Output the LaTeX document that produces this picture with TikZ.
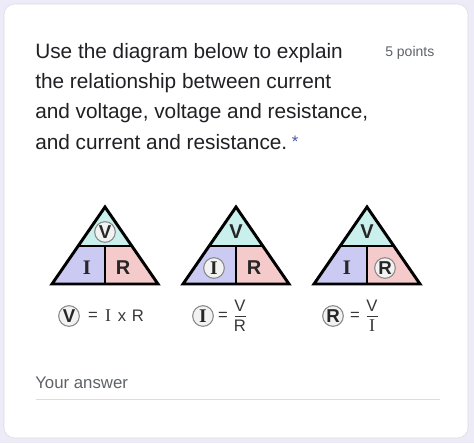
\documentclass[tikz,border=0pt]{standalone}
\usepackage{fontspec}
\setmainfont{Liberation Sans}
\newfontfamily\serifb{Liberation Serif}
\definecolor{bgout}{HTML}{ECEBF7}
\definecolor{cardline}{HTML}{DADCE0}
\definecolor{txt}{HTML}{202124}
\definecolor{gry}{HTML}{5F6368}
\definecolor{star}{HTML}{4A55A8}
\definecolor{topc}{HTML}{C9F0EC}
\definecolor{leftc}{HTML}{CACAF2}
\definecolor{rightc}{HTML}{F4CACB}
\definecolor{ringc}{HTML}{8A8A8A}
\definecolor{ringfill}{HTML}{F2F2F2}
\tikzset{
  qtext/.style={anchor=base west,inner sep=0pt,text=txt,font=\fontsize{15.6}{18}\selectfont},
  tri/.style={draw=black,line width=2.2pt,line join=miter},
  inner/.style={draw=black,line width=1.6pt},
  lett/.style={inner sep=0pt,font=\fontsize{15}{15}\selectfont\bfseries,text=black!85},
  serl/.style={inner sep=0pt,font=\fontsize{15.5}{15}\selectfont\bfseries\serifb,text=black!85},
  ring/.style={circle,draw=ringc,line width=0.8pt,fill=ringfill,minimum size=15.5pt,inner sep=0pt,font=\fontsize{14}{14}\selectfont\bfseries,text=black!85},
  sring/.style={ring,font=\fontsize{14.5}{14}\selectfont\bfseries\serifb},
  frm/.style={inner sep=0pt,font=\fontsize{12.5}{13}\selectfont,text=black!78},
}
\begin{document}
\begin{tikzpicture}[x=0.75pt,y=-0.75pt]
\useasboundingbox (0,0) rectangle (474,443);
\fill[bgout] (0,0) rectangle (474,443);
\draw[cardline,fill=white,rounded corners=8] (4,4) rectangle (468,438);
% question text
\node[qtext] (q1) at (35,58) {Use the diagram below to explain};
\node[qtext] (q2) at (35,88) {the relationship between current};
\node[qtext] (q3) at (35,118) {and voltage, voltage and resistance,};
\node[qtext] (q4) at (35,149) {and current and resistance.};
\node[anchor=base west,inner sep=0pt,text=star,font=\fontsize{12.5}{12}\selectfont] (st) at ([xshift=3pt,yshift=1pt]q4.base east) {*};
\node[anchor=base west,inner sep=0pt,text=gry,font=\fontsize{10.5}{12}\selectfont] (pts) at (385,56) {5 points};
% triangles
\foreach \cx/\nm in {105/a,236/b,367/c}{
  \fill[topc] (\cx,207) -- (\cx-26.8,246) -- (\cx+26.8,246) -- cycle;
  \fill[leftc] (\cx-26.8,246) -- (\cx,246) -- (\cx,284) -- (\cx-53,284) -- cycle;
  \fill[rightc] (\cx+26.8,246) -- (\cx,246) -- (\cx,284) -- (\cx+53,284) -- cycle;
  \draw[inner] (\cx-26.8,246) -- (\cx+26.8,246) (\cx,246) -- (\cx,284);
  \draw[tri] (\cx,207) -- (\cx-53,284) -- (\cx+53,284) -- cycle;
}
% triangle 1
\node[ring] (aV) at (105,232) {V};
\node[serl] (aI) at (87,268) {I};
\node[lett] (aR) at (123,268) {R};
% triangle 2
\node[lett] (bV) at (236,232) {V};
\node[sring] (bI) at (214,268) {I};
\node[lett] (bR) at (254,268) {R};
% triangle 3
\node[lett] (cV) at (367,232) {V};
\node[serl] (cI) at (347,268) {I};
\node[ring] (cR) at (385,268) {R};
% formulas
\node[ring] (fV) at (69,316) {V};
\node[frm] (e1) at (93,316) {=};
\node[frm,font=\fontsize{13.5}{13}\selectfont\serifb] (i1) at (108,316) {I};
\node[frm] (x1) at (122,317) {x};
\node[frm] (r1) at (138,316) {R};
\node[sring] (fI) at (203,316) {I};
\node[frm] (e2) at (223,316) {=};
\node[frm] (n2) at (240,306) {V};
\node[frm] (d2) at (240,326) {R};
\draw[black!78,line width=0.7pt] (234.5,316) -- (245.5,316);
\node[ring] (fR) at (333,316) {R};
\node[frm] (e3) at (355,316) {=};
\node[frm] (n3) at (372,306) {V};
\node[frm,font=\fontsize{13.5}{13}\selectfont\serifb] (d3) at (372,326) {I};
\draw[black!78,line width=0.7pt] (366.5,316) -- (377.5,316);
% answer
\node[anchor=base west,inner sep=0pt,text=gry,font=\fontsize{12.6}{14}\selectfont] (ans) at (35,388) {Your answer};
\draw[cardline,line width=0.6pt] (36,399) -- (440,399);
\end{tikzpicture}
\end{document}
